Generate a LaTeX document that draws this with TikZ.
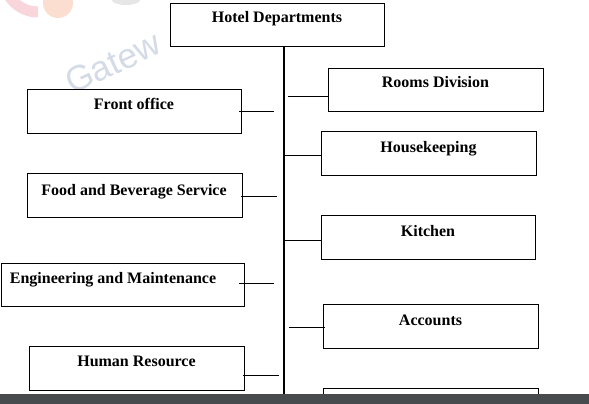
\documentclass[tikz,border=0pt]{standalone}
\usepackage{fontspec}
\setmainfont{Liberation Serif}
\newfontfamily\wmfont{Liberation Sans}
\definecolor{wmblue}{RGB}{212,219,230}
\definecolor{wmpink}{RGB}{249,214,219}
\definecolor{wmorange}{RGB}{251,222,208}
\definecolor{wmgray}{RGB}{230,230,230}
\definecolor{barcol}{RGB}{72,75,78}
\begin{document}
\begin{tikzpicture}[x=1pt,y=-1pt,
  dept/.style={draw=black, line width=0.9pt, fill=white, inner sep=0pt, anchor=north west},
  lbl/.style={anchor=base, font=\bfseries\fontsize{16}{19}\selectfont},
  link/.style={draw=black, line width=0.9pt},
  spine/.style={draw=black, line width=1.8pt}]
\useasboundingbox (0,0) rectangle (589,404);
% watermark
\draw[wmpink, line width=11pt] (4,-22) arc[start angle=180, end angle=90, radius=34];
\fill[wmorange] (58,3) circle[radius=15];
\fill[wmgray] (126,0) ellipse[x radius=14, y radius=5];
\node[wmblue, rotate=25, anchor=base west, inner sep=0pt, font=\wmfont\fontsize{35}{40}\selectfont] (wm) at (72,95) {Gatew};
% boxes
\node[dept, minimum width=214pt, minimum height=43pt] (hd) at (170,3) {};
\node[dept, minimum width=214pt, minimum height=44pt] (fo) at (27,89) {};
\node[dept, minimum width=215pt, minimum height=44pt] (fb) at (27,173) {};
\node[dept, minimum width=243.5pt, minimum height=43.5pt] (em) at (0.5,262.5) {};
\node[dept, minimum width=215pt, minimum height=44pt] (hr) at (29,346) {};
\node[dept, minimum width=215pt, minimum height=43pt] (rd) at (328,68) {};
\node[dept, minimum width=215pt, minimum height=44pt] (hk) at (321,131) {};
\node[dept, minimum width=214pt, minimum height=44pt] (ki) at (321,215) {};
\node[dept, minimum width=215pt, minimum height=44pt] (ac) at (323,304) {};
\node[dept, minimum width=215pt, minimum height=44pt] (nx) at (323,388) {};
% labels
\node[lbl] (hdl) at (277,23) {Hotel Departments};
\node[lbl] (fol) at (134,110) {Front office};
\node[lbl] (fbl) at (134,195) {Food and Beverage Service};
\node[lbl] (eml) at (113,283) {Engineering and Maintenance};
\node[lbl] (hrl) at (136.5,366.5) {Human Resource};
\node[lbl] (rdl) at (435.5,88) {Rooms Division};
\node[lbl] (hkl) at (428.5,152.5) {Housekeeping};
\node[lbl] (kil) at (428,236) {Kitchen};
\node[lbl] (acl) at (430.5,325.5) {Accounts};
% spine
\coordinate (sb) at (284,396);
\draw[spine] (hd.south -| sb) -- (sb);
% connectors
\coordinate (foe) at (274,111);
\coordinate (fbe) at (277,196);
\coordinate (eme) at (274,283);
\coordinate (hre) at (279,375);
\coordinate (rde) at (288,96);
\coordinate (hke) at (283,155);
\coordinate (kie) at (283,240);
\coordinate (ace) at (289,327);
\draw[link] ([xshift=-3pt]foe -| fo.east) -- (foe);
\draw[link] ([xshift=-2pt]fbe -| fb.east) -- (fbe);
\draw[link] ([xshift=-6pt]eme -| em.east) -- (eme);
\draw[link] ([xshift=-2pt]hre -| hr.east) -- (hre);
\draw[link] (rde) -- (rde -| rd.west);
\draw[link] (hke) -- (hke -| hk.west);
\draw[link] (kie) -- (kie -| ki.west);
\draw[link] (ace) -- ([xshift=2pt]ace -| ac.west);
% bottom bar
\fill[barcol] (0,394) rectangle (589,404);
\end{tikzpicture}
\end{document}
